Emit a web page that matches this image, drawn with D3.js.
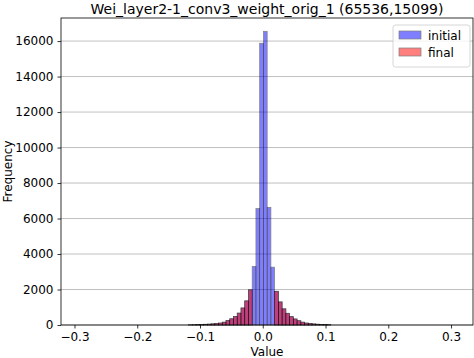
<!DOCTYPE html>
<html><head><meta charset="utf-8">
<script src="https://cdn.jsdelivr.net/npm/d3@7"></script>
<style>body{margin:0;background:#fff}svg{display:block;font-family:"DejaVu Sans",sans-serif}</style>
</head><body><svg id="c" width="474" height="358"></svg>
<script>
const title = "Wei_layer2-1_conv3_weight_orig_1 (65536,15099)";
const binStart = -0.291;
const binWidth = 0.00596;
// counts per bin (index 0..99); bins not listed are zero
const initialBins = [29,30,31,32,33,34,35,36,37,38,39,40,41,42,43,44,45,46,47,48,49,50,51,52,53,54,55,56,57,58,59,60,61,62,63,64,65,66];
const initialCounts = [10,15,22,30,40,50,65,85,110,160,250,350,480,670,960,1360,1980,3300,6560,15880,16550,6630,3260,1900,1300,910,660,470,340,240,160,110,80,60,45,35,25,18];
const finalBins = [29,30,31,32,33,34,35,36,37,38,39,40,41,42,43,44,45,52,53,54,55,56,57,58,59,60,61,62,63,64,65,66];
const finalCounts = [10,15,22,30,40,50,65,85,110,160,250,350,480,670,960,1360,1980,1900,1300,910,660,470,340,240,160,110,80,60,45,35,25,18];
const xTicks = [-0.3,-0.2,-0.1,0.0,0.1,0.2,0.3];
const yTicks = [0,2000,4000,6000,8000,10000,12000,14000,16000];
const legendLabels = ["initial","final"];
const colors = ["rgb(0,0,255)","rgb(255,0,0)"];

const svg = d3.select("#c");
const L=61, R=473, T=18, B=325;
const x = d3.scaleLinear().domain([-0.3215,0.335]).range([L,R]);
const y = d3.scaleLinear().domain([0,17300]).range([B,T]);

// grid
svg.append("g").selectAll("line").data(yTicks).join("line")
  .attr("x1",L).attr("x2",R).attr("y1",d=>y(d)).attr("y2",d=>y(d))
  .attr("stroke","#b0b0b0").attr("stroke-width",0.8);

function drawHist(bins, counts, color){
  const data = bins.map((b,i)=>({b, c:counts[i]}));
  svg.append("g").selectAll("rect").data(data).join("rect")
    .attr("x",d=>x(binStart+d.b*binWidth))
    .attr("width",d=>x(binStart+(d.b+1)*binWidth)-x(binStart+d.b*binWidth))
    .attr("y",d=>y(d.c)).attr("height",d=>y(0)-y(d.c))
    .attr("fill",color).attr("stroke","#000").attr("stroke-width",0.7)
    .attr("opacity",0.5);
}
drawHist(initialBins, initialCounts, colors[0]);
drawHist(finalBins, finalCounts, colors[1]);

// axes
const xa = svg.append("g").attr("transform",`translate(0,${B})`)
  .call(d3.axisBottom(x).tickValues(xTicks).tickSize(3.5).tickPadding(4)
    .tickFormat(d=>d3.format(".1f")(d).replace("-","\u2212")));
const ya = svg.append("g").attr("transform",`translate(${L},0)`)
  .call(d3.axisLeft(y).tickValues(yTicks).tickSize(3.5).tickPadding(4).tickFormat(d3.format("d")));
[xa,ya].forEach(a=>{a.selectAll("text").attr("font-size",12).attr("fill","#000").attr("font-family","DejaVu Sans");
  a.select(".domain").remove(); a.selectAll(".tick line").attr("stroke","#000").attr("stroke-width",0.8);});

// frame
svg.append("rect").attr("x",L).attr("y",T).attr("width",R-L).attr("height",B-T)
  .attr("fill","none").attr("stroke","#000").attr("stroke-width",0.8);

// labels
svg.append("text").attr("x",(L+R)/2).attr("y",14).attr("text-anchor","middle")
  .attr("font-size",14).text(title);
svg.append("text").attr("x",(L+R)/2).attr("y",356).attr("text-anchor","middle")
  .attr("font-size",12).text("Value");
svg.append("text").attr("transform",`translate(12,${(T+B)/2}) rotate(-90)`).attr("text-anchor","middle")
  .attr("font-size",12).text("Frequency");

// legend
const lg = svg.append("g").attr("transform","translate(393,25)");
lg.append("rect").attr("width",77).attr("height",42).attr("rx",2.5)
  .attr("fill","#fff").attr("fill-opacity",0.8).attr("stroke","#ccc").attr("stroke-width",0.8);
legendLabels.forEach((t,i)=>{
  lg.append("rect").attr("x",6).attr("y",6+i*17).attr("width",22).attr("height",8)
    .attr("fill",colors[i]).attr("stroke","#000").attr("stroke-width",0.7).attr("opacity",0.5);
  lg.append("text").attr("x",35).attr("y",14.5+i*17).attr("font-size",12).text(t);
});
</script></body></html>
